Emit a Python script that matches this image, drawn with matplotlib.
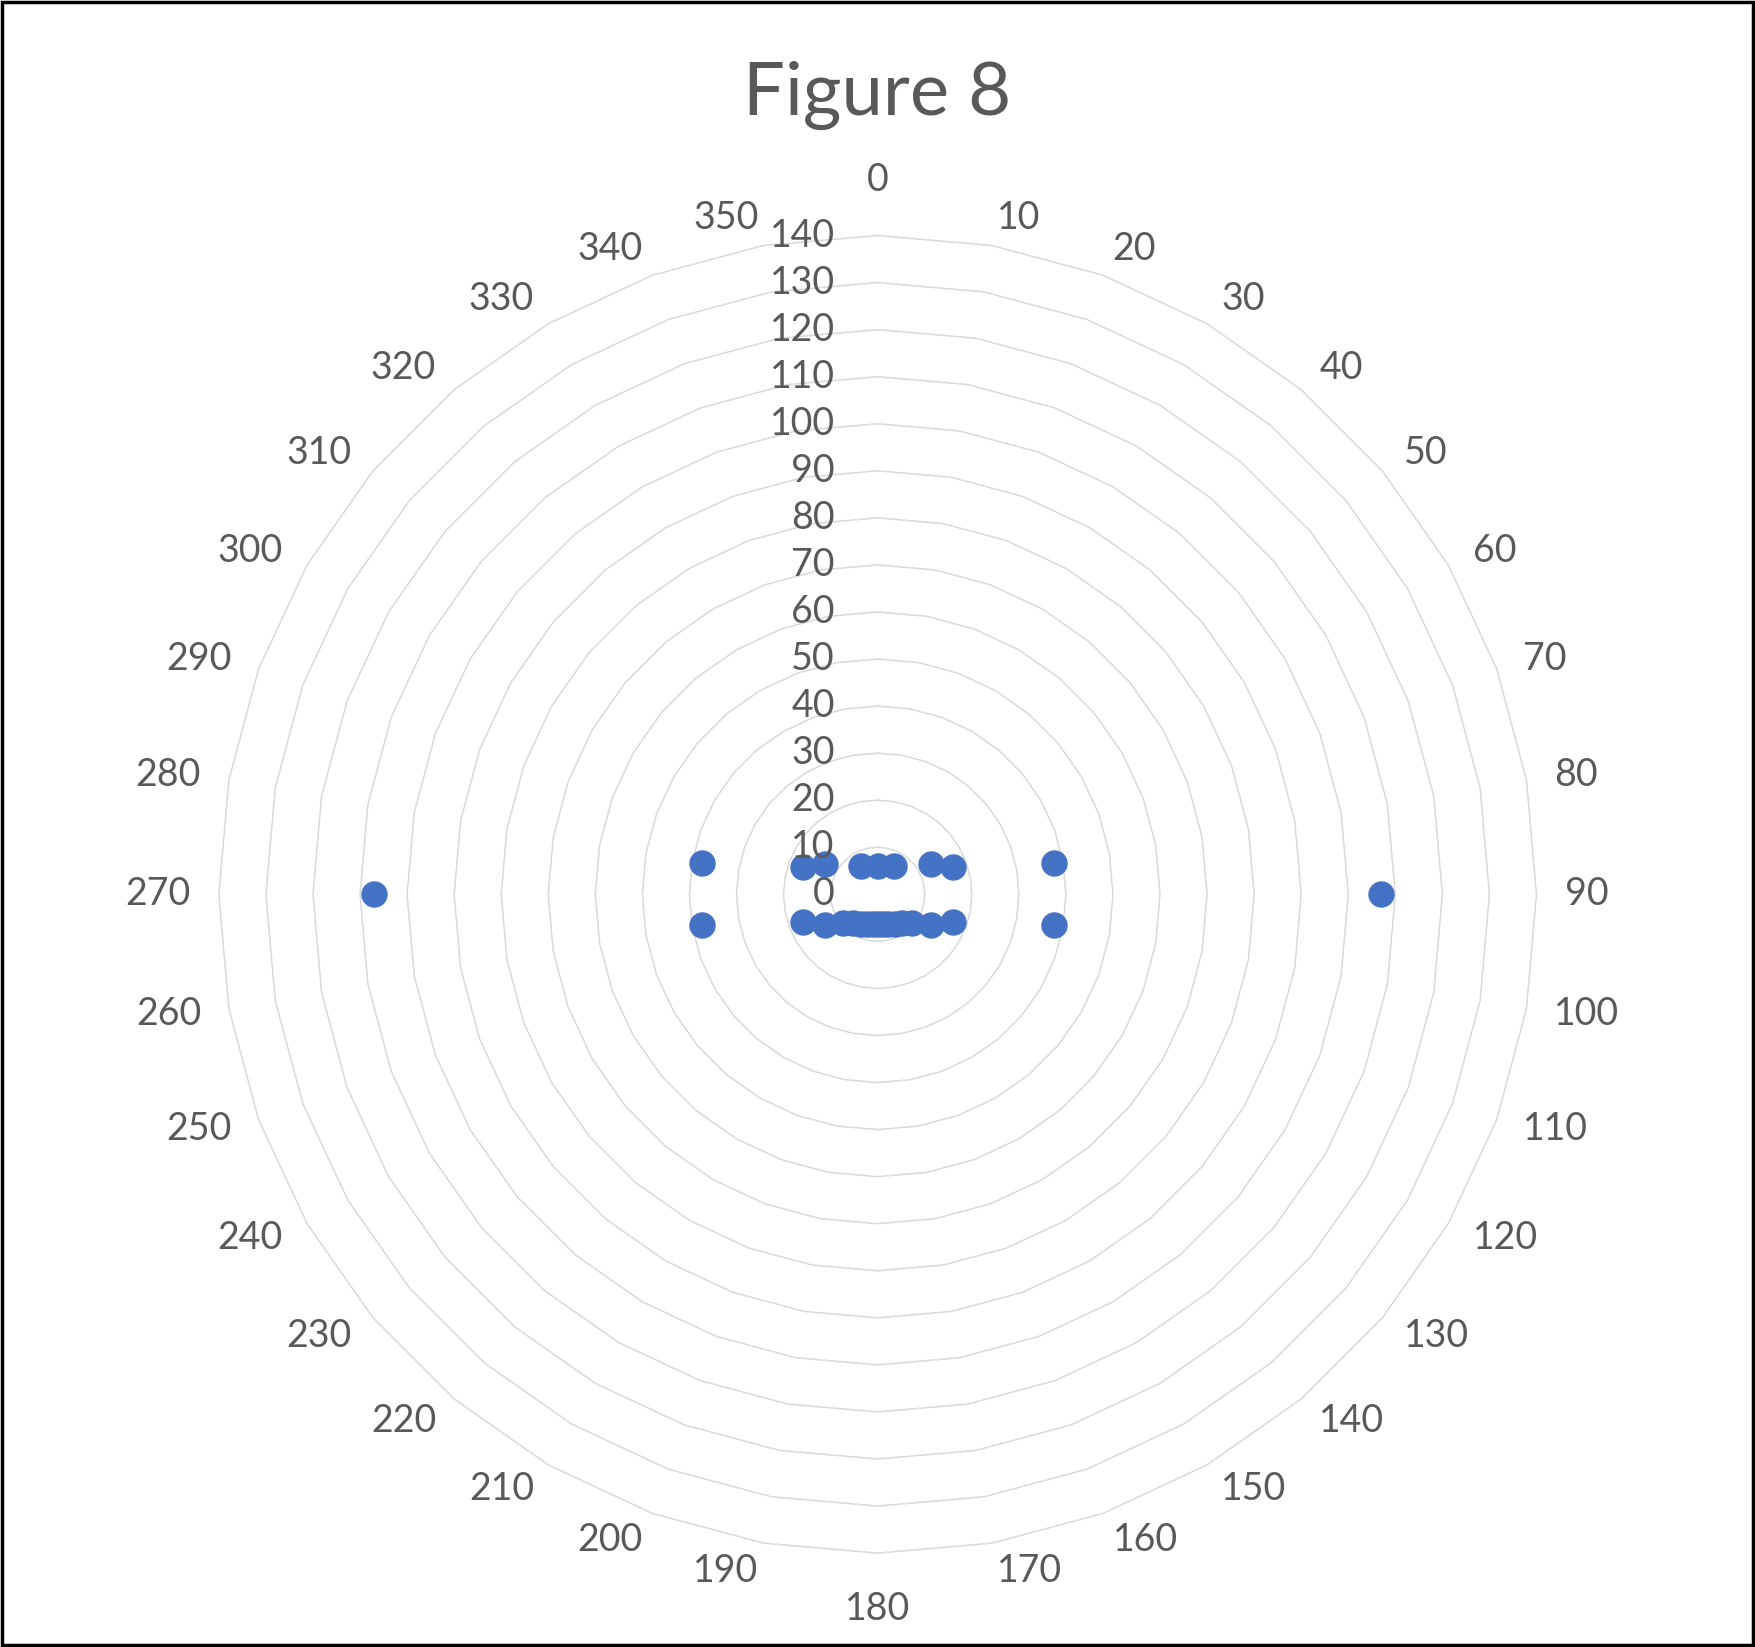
import numpy as np
import matplotlib.pyplot as plt
from matplotlib.patches import Rectangle

# Radar chart data (angle categories in degrees, value per category; nan = blank cell)
angles = list(range(0, 360, 10))
values = [6, np.nan, np.nan, 7, np.nan, np.nan, 13, 17, 38,
          107, 38, 17, 13, 9.5, 8, 7.2, 6.6, 6.3,
          6.3, 6.3, 6.6, 7.2, 8, 9.5, 13, 17, 38,
          107, 38, 17, 13, np.nan, np.nan, 7, np.nan, np.nan]
radial_ticks = list(range(0, 150, 10))

text_col = '#595959'
grid_col = '#D9D9D9'
dot_col = '#4472C4'
plt.rcParams['font.family'] = ['Lato', 'DejaVu Sans']

fig = plt.figure(figsize=(17.55, 16.47), dpi=100)
ax = fig.add_axes([0.1247, 0.0570, 0.7508, 0.8000], projection='polar')
ax.set_theta_zero_location('N')
ax.set_theta_direction(-1)
ax.set_ylim(0, 140)
ax.grid(False)
ax.spines['polar'].set_visible(False)
ax.set_xticks([])
ax.set_yticks([])
ax.patch.set_alpha(0)

theta = np.deg2rad(angles)
theta_closed = np.append(theta, theta[0])

# polygon gridlines like Excel radar
for r in radial_ticks[1:]:
    ax.plot(theta_closed, [r] * len(theta_closed), color=grid_col, lw=1.1,
            zorder=1, clip_on=False)

ax.plot(theta, values, linestyle='none', marker='o', markersize=18,
        color=dot_col, zorder=3, clip_on=False)

# radial value labels along the 0 spoke
for r in radial_ticks:
    ax.annotate(str(r), xy=(0, r), xytext=(-43, 0), textcoords='offset pixels',
                ha='right', va='center', fontsize=27, color=text_col, zorder=4)

# category labels: left/right aligned on the sides, centred at top and bottom
for a, t in zip(angles, theta):
    if a == 0 or a == 180:
        ax.text(t, 151.9, str(a), ha='center', va='center', fontsize=27,
                color=text_col, clip_on=False)
    else:
        ax.text(t, 146, str(a), ha='left' if a < 180 else 'right', va='center',
                fontsize=27, color=text_col, clip_on=False)

fig.text(0.5, 1 - 115 / 1647, 'Figure 8', ha='center', va='baseline',
         fontsize=53.5, color=text_col)

fig.patches.append(Rectangle((0.001, 0.001), 0.998, 0.998, transform=fig.transFigure,
                             fill=False, edgecolor='black', lw=2.5))

fig.savefig('out.png', dpi=100)
